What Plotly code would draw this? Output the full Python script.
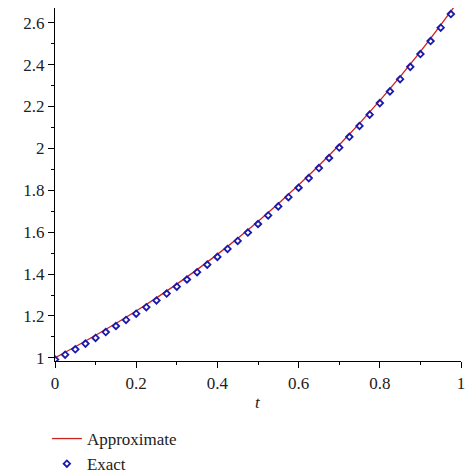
import plotly.graph_objects as go

t_line = [0.0, 0.1, 0.2, 0.3, 0.4, 0.5, 0.6, 0.7, 0.8, 0.9, 1.0]
approx = [1.0, 1.108, 1.224, 1.352, 1.494, 1.651, 1.825, 2.016, 2.228, 2.462, 2.72]

t_exact = [0.0, 0.025, 0.05, 0.075, 0.1, 0.125, 0.15, 0.175, 0.2, 0.225, 0.25, 0.275, 0.3, 0.325,
           0.35, 0.375, 0.4, 0.425, 0.45, 0.475, 0.5, 0.525, 0.55, 0.575, 0.6, 0.625, 0.65, 0.675,
           0.7, 0.725, 0.75, 0.775, 0.8, 0.825, 0.85, 0.875, 0.9, 0.925, 0.95, 0.975]
exact = [0.992, 1.015, 1.041, 1.068, 1.095, 1.123, 1.152, 1.181, 1.211, 1.242, 1.274, 1.307, 1.340,
         1.374, 1.409, 1.445, 1.482, 1.520, 1.558, 1.598, 1.639, 1.680, 1.723, 1.767, 1.812, 1.858,
         1.906, 1.954, 2.004, 2.055, 2.107, 2.161, 2.216, 2.272, 2.330, 2.389, 2.450, 2.512, 2.576, 2.641]

fig = go.Figure()
fig.add_trace(go.Scatter(x=t_line, y=approx, mode="lines", name="Approximate",
                         line=dict(color="#cc2222", width=1.3, shape="spline")))
fig.add_trace(go.Scatter(x=t_exact, y=exact, mode="markers", name="Exact",
                         marker=dict(symbol="diamond-open", color="#1a1aaa", size=5,
                                     line=dict(width=1.8, color="#1a1aaa"))))

axis_common = dict(showgrid=False, zeroline=False, showline=True, linecolor="black", linewidth=1.2,
                   ticks="outside", ticklen=6, tickcolor="black",
                   tickfont=dict(family="Liberation Serif", size=17, color="#222"),
                   minor=dict(ticks="outside", ticklen=3, tickcolor="black"))
fig.update_xaxes(range=[0, 1], tickvals=[0, 0.2, 0.4, 0.6, 0.8, 1], ticktext=["0", "0.2", "0.4", "0.6", "0.8", "1"],
                 minor_dtick=0.1, **axis_common)
fig.update_yaxes(range=[0.985, 2.67], tickvals=[1, 1.2, 1.4, 1.6, 1.8, 2, 2.2, 2.4, 2.6],
                 ticktext=["1", "1.2", "1.4", "1.6", "1.8", "2", "2.2", "2.4", "2.6"],
                 minor_dtick=0.1, **axis_common)

fig.add_annotation(text="<i>t</i>", xref="paper", yref="paper", x=0.5, y=-0.118, yanchor="middle",
                   showarrow=False, font=dict(family="Liberation Serif", size=17, color="#222"))

fig.update_layout(width=474, height=474, margin=dict(l=47, r=21, t=0, b=100),
                  paper_bgcolor="white", plot_bgcolor="white",
                  font=dict(family="Liberation Serif", color="#222"),
                  legend=dict(x=-0.02, y=-0.17, xanchor="left", yanchor="top", orientation="v",
                              font=dict(family="Liberation Serif", size=17, color="#222"),
                              bgcolor="rgba(0,0,0,0)", tracegroupgap=0))
fig.write_html("out.html")
